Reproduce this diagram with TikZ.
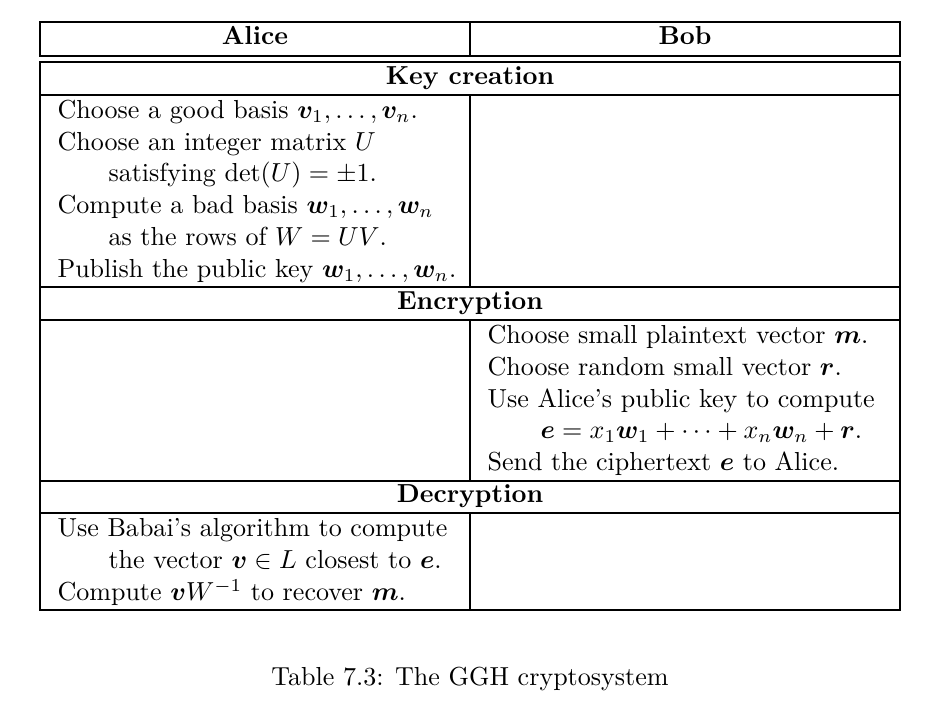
\documentclass[tikz,border=0pt]{standalone}
\usepackage{amsmath,bm}
\begin{document}
\begin{tikzpicture}[x=0.384pt,y=-0.384pt,
  t/.style={anchor=base west,inner sep=0pt},
  h/.style={anchor=base,inner sep=0pt,font=\bfseries},
  box/.style={draw,line width=0.4pt}]
\useasboundingbox (0,0) rectangle (938,702);
% header
\draw[box] (40,22) rectangle (900,56);
\draw[box] (470,22) -- (470,56);
\node[h] (alice) at (255,45) {Alice};
\node[h] (bob) at (685,45) {Bob};
% main
\draw[box] (40,62) rectangle (900,610);
\foreach \yy in {95,287,320,481,513} \draw[box] (40,\yy) -- (900,\yy);
\draw[box] (470,95) -- (470,287);
\draw[box] (470,320) -- (470,481);
\draw[box] (470,513) -- (470,610);
\node[h] (kc) at (470,85) {Key creation};
\node[h] (enc) at (470,310) {Encryption};
\node[h] (dec) at (470,503) {Decryption};
% key creation
\node[t] (k1) at (57,119) {Choose a good basis $\bm v_1,\ldots,\bm v_n$.};
\node[t] (k2) at (57,151) {Choose an integer matrix $U$};
\node[t] (k3) at (108,182) {satisfying $\det(U)=\pm1$.};
\node[t] (k4) at (57,214) {Compute a bad basis $\bm w_1,\ldots,\bm w_n$};
\node[t] (k5) at (108,246) {as the rows of $W=UV$.};
\node[t] (k6) at (57,278) {Publish the public key $\bm w_1,\ldots,\bm w_n$.};
% encryption
\node[t] (e1) at (487,344) {Choose small plaintext vector $\bm m$.};
\node[t] (e2) at (487,376) {Choose random small vector $\bm r$.};
\node[t] (e3) at (487,408) {Use Alice’s public key to compute};
\node[t] (e4) at (540,439) {$\bm e=x_1\bm w_1+\cdots+x_n\bm w_n+\bm r$.};
\node[t] (e5) at (487,471) {Send the ciphertext $\bm e$ to Alice.};
% decryption
\node[t] (d1) at (57,537) {Use Babai’s algorithm to compute};
\node[t] (d2) at (108,569) {the vector $\bm v\in L$ closest to $\bm e$.};
\node[t] (d3) at (57,601) {Compute $\bm vW^{-1}$ to recover $\bm m$.};
% caption
\node[anchor=base,inner sep=0pt] (cap) at (470,686) {Table 7.3: The GGH cryptosystem};
\end{tikzpicture}
\end{document}
